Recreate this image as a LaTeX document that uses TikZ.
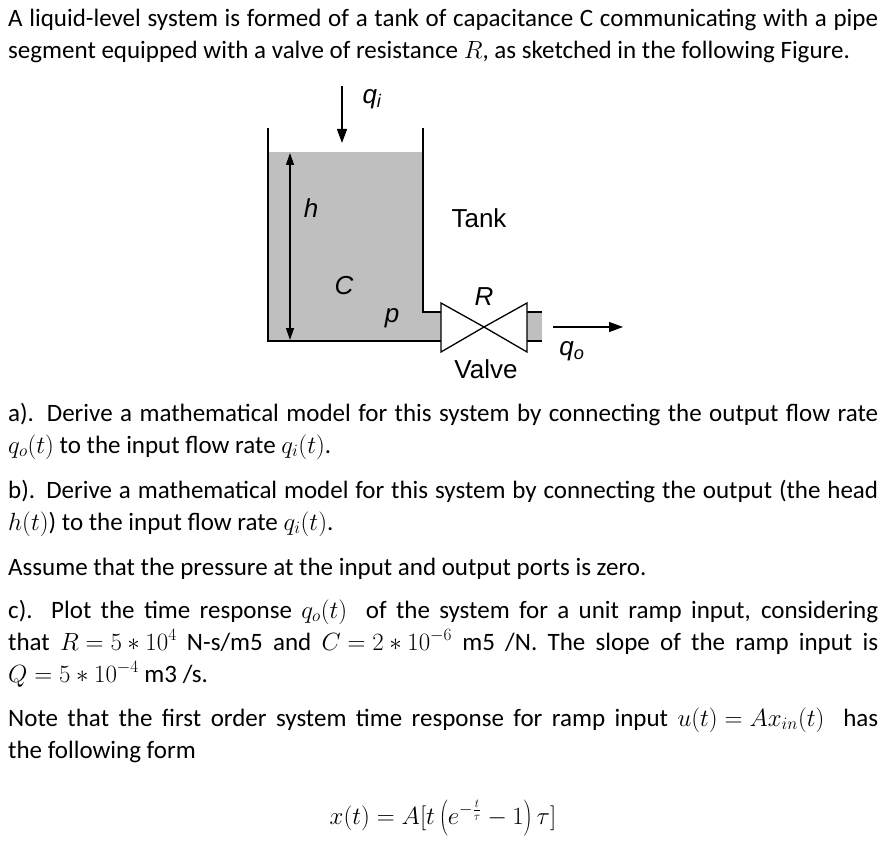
\documentclass[tikz,border=0pt]{standalone}
\usepackage{fontspec}
\setmainfont{Carlito}
\newfontfamily\arialf{Liberation Sans}
\usetikzlibrary{arrows.meta}
\begin{document}
\begin{tikzpicture}[x=1pt,y=-1pt,
  txt/.style={anchor=base west,inner sep=0pt,font=\fontsize{25}{29}\selectfont},
  lab/.style={inner sep=0pt,font=\arialf\fontsize{26}{30}\selectfont},
  wall/.style={line width=1.3pt},
  arr/.style={line width=1.3pt,-{Triangle[length=14pt,width=10pt]}}]
\useasboundingbox (0,0) rectangle (886,842);
\newcommand{\fl}[1]{\makebox[870pt][s]{#1}}
\newcommand{\mm}[1]{\hbox{$#1$}}
% text
\node[txt] (l1) at (8,27) {\fl{A liquid-level system is formed of a tank of capacitance C communicating with a pipe}};
\node[txt] (l2) at (8,59) {segment equipped with a valve of resistance $R$, as sketched in the following Figure.};
\node[txt] (a1) at (8,421) {\fl{a). Derive a mathematical model for this system by connecting the output flow rate}};
\node[txt] (a2) at (8,453) {$q_o(t)$ to the input flow rate $q_i(t)$.};
\node[txt] (b1) at (8,498) {\fl{b). Derive a mathematical model for this system by connecting the output (the head}};
\node[txt] (b2) at (8,530) {$h(t)$) to the input flow rate $q_i(t)$.};
\node[txt] (as) at (8,575) {Assume that the pressure at the input and output ports is zero.};
\node[txt] (c1) at (8,618) {\fl{c). Plot the time response \mm{q_o(t)}\ \ of the system for a unit ramp input, considering}};
\node[txt] (c2) at (8,650) {\fl{that \mm{R=5*10^4} N-s/m5 and \mm{C=2*10^{-6}} m5 /N. The slope of the ramp input is}};
\node[txt] (c3) at (8,682) {$Q=5*10^{-4}$ m3 /s.};
\node[txt] (n1) at (8,726) {\fl{Note that the first order system time response for ramp input \mm{u(t)=Ax_{in}(t)}\ \ has}};
\node[txt] (n2) at (8,758) {the following form};
\node[inner sep=0pt,font=\fontsize{25}{29}\selectfont] (eq) at (443,818) {$\displaystyle x(t)=A\Bigl[t\left(e^{-\frac{t}{\tau}}-1\right)\tau\Bigr]$};
% liquid
\fill[gray!50] (268,152) rectangle (423,341);
\fill[gray!50] (423,312) rectangle (542,341);
\fill[white] (441,303) rectangle (527,352);
\draw[wall] (268,128) -- (268,341) -- (441,341);
\draw[wall] (423,128) -- (423,312) -- (441,312);
\draw[wall] (527,312) -- (542,312);
\draw[wall] (527,341) -- (542,341);
% valve
\coordinate (vc) at (484,327);
\draw[wall,fill=white] (441,303) -- (vc) -- (441,352) -- cycle;
\draw[wall,fill=white] (527,303) -- (vc) -- (527,352) -- cycle;
% h arrow
\coordinate (ht) at (290,153);
\coordinate (hb) at (290,340);
\draw[line width=1.3pt,{Triangle[length=12pt,width=8pt]}-{Triangle[length=12pt,width=8pt]}] (ht) -- (hb);
% flows
\coordinate (qis) at (342,86);
\coordinate (qie) at (342,143);
\draw[arr] (qis) -- (qie);
\coordinate (qos) at (553,327);
\coordinate (qoe) at (623,327);
\draw[arr] (qos) -- (qoe);
% labels
\node[lab] (lqi) at (372,99) {\itshape q\textsubscript{\itshape i}};
\node[lab] (lh) at (311,208) {\itshape h};
\node[lab] (lt) at (479,218) {Tank};
\node[lab] (lc) at (344,286) {\itshape C};
\node[lab] (lp) at (392,318) {\itshape p};
\node[lab] (lr) at (484,297) {\itshape R};
\node[lab] (lv) at (486,369) {Valve};
\node[lab] (lqo) at (572,351) {\itshape q\textsubscript{\itshape o}};
\end{tikzpicture}
\end{document}
